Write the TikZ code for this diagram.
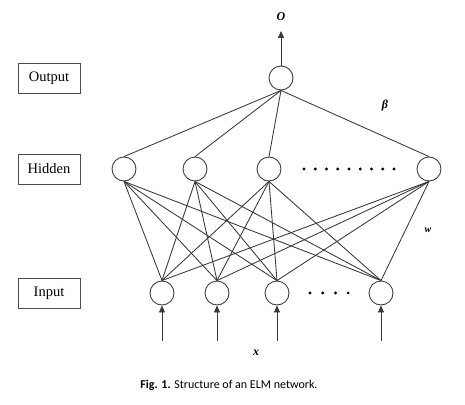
\documentclass[tikz,border=0pt]{standalone}
\usepackage{fontspec}
\setmainfont{Liberation Serif}
\newfontfamily\capfont{Carlito}
\usetikzlibrary{arrows.meta}
\begin{document}
\begin{tikzpicture}[x=1pt,y=-1pt,
  neuron/.style={circle,draw=black!75,line width=0.9pt,minimum size=24pt,inner sep=0pt},
  layerbox/.style={draw=black!70,line width=0.9pt,minimum width=62pt,minimum height=30pt,inner sep=0pt,font=\fontsize{14.5}{16}\selectfont},
  conn/.style={draw=black!78,line width=0.85pt},
  arr/.style={conn,-{Triangle[length=7pt,width=6pt]}},
  mlab/.style={font=\fontsize{12}{14}\selectfont\bfseries\itshape},
  dotmark/.style={circle,fill=black,inner sep=0pt,minimum size=3.2pt}]
\useasboundingbox (0,0) rectangle (465,404);
\fill[white] (0,0) rectangle (465,404);
% layer boxes
\node[layerbox] (bo) at (49,78) {Output};
\node[layerbox] (bh) at (49,169) {Hidden};
\node[layerbox] (bi) at (49,293) {Input};
% neurons
\node[neuron] (o) at (281,78) {};
\foreach \n/\x in {1/124,2/195,3/269,4/429}{\node[neuron] (h\n) at (\x,169) {};}
\foreach \n/\x in {1/162,2/217,3/277,4/381}{\node[neuron] (i\n) at (\x,293) {};}
% dots
\foreach \k in {0,...,8}{\node[dotmark] (hd\k) at ({304+11.25*\k},169) {};}
\foreach \k in {0,...,3}{\node[dotmark] (id\k) at ({310+12.7*\k},293) {};}
% output -> hidden
\foreach \n in {1,...,4}{\draw[conn] (o.south) -- (h\n.north);}
% hidden -> input
\foreach \a in {1,...,4}{\foreach \b in {1,...,4}{\draw[conn] (h\a.south) -- (i\b.north);}}
% output arrow
\coordinate (otip) at (281,31);
\draw[arr] (o.north) -- (otip);
\node[mlab] (ol) at (281,17) {O};
% input arrows
\foreach \n/\x in {1/162,2/217,3/277,4/381}{\coordinate (s\n) at (\x,341); \draw[arr] (s\n) -- (i\n.south);}
\node[mlab] (xl) at (256,353) {x};
\node[mlab] (bl) at (385,106) {β};
\node[mlab,font=\fontsize{10}{12}\selectfont\bfseries\itshape] (wl) at (428,230) {w};
% caption
\node[font=\capfont\fontsize{12}{14}\selectfont] (cap) at (229,385) {\textbf{Fig. 1.} Structure of an ELM network.};
\end{tikzpicture}
\end{document}
